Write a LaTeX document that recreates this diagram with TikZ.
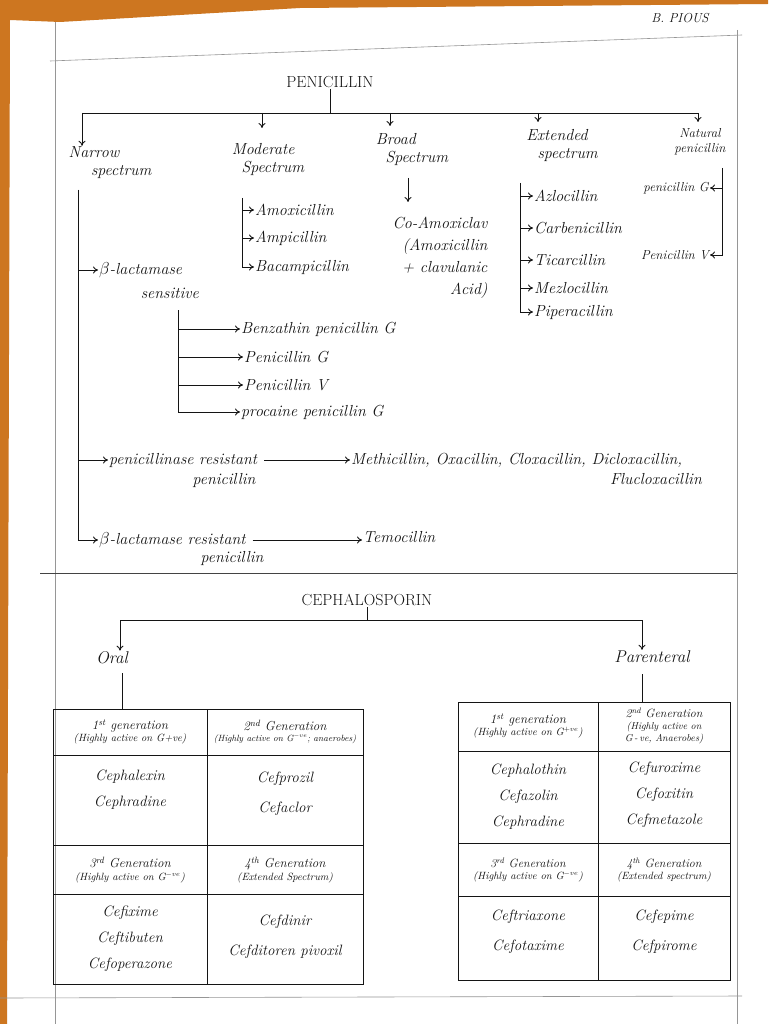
\documentclass[tikz,border=0pt]{standalone}
\usetikzlibrary{arrows.meta}
\definecolor{desk}{RGB}{205,118,32}
\definecolor{rule}{RGB}{150,150,150}
\definecolor{ink}{RGB}{20,20,20}
\begin{document}
\begin{tikzpicture}[x=1pt,y=-1pt,
  txt/.style={font=\fontsize{16}{18}\selectfont\itshape, inner sep=1pt, text=ink},
  mid/.style={font=\fontsize{13}{15}\selectfont\itshape, inner sep=1pt, text=ink},
  ttl/.style={font=\fontsize{16}{18}\selectfont, inner sep=1pt, text=ink},
  two/.style={txt, align=left},
  cell/.style={font=\fontsize{15}{26}\selectfont\itshape, align=center, inner sep=0pt, text=ink},
  head/.style={align=center, inner sep=0pt, text=ink, font=\fontsize{10.5}{12.5}\selectfont\itshape},
  ln/.style={line width=0.9pt, draw=ink},
  arr/.style={ln,-{To[length=5pt,width=7pt]}},
  pageline/.style={line width=0.6pt, draw=rule}]
\useasboundingbox (0,0) rectangle (768,1024);
\fill[white] (0,0) rectangle (768,1024);
\fill[desk] (0,0) -- (768,0) -- (768,4) -- (300,8) -- (60,22) -- (10,20) -- (7,1024) -- (0,1024) -- cycle;
% page rules
\draw[pageline] (50,61) -- (742,35);
\draw[pageline] (55,22) -- (55,1024);
\draw[pageline] (737,30) -- (737,1024);
\draw[pageline] (0,998) -- (742,996);
\draw[line width=0.8pt, draw=ink!80] (40,573) -- (737,573);
\node[ttl, font=\fontsize{13}{15}\selectfont\itshape] (author) at (680,18) {B. PIOUS};

% ---------------- PENICILLIN ----------------
\node[ttl] (pen) at (330,82) {PENICILLIN};
\coordinate (pbL) at (82,113);
\coordinate (pbR) at (698,113);
\draw[ln] (pen.south) -- (pen.south |- pbL);
\draw[ln] (pbL) -- (pbR);

\node[two] (narrow) at (110,163) {Narrow\\\hspace{1.4em}spectrum};
\node[two] (moder) at (268,160) {Moderate\\\hspace{0.6em}Spectrum};
\node[two] (broad) at (412,150) {Broad\\\hspace{0.6em}Spectrum};
\node[two] (exten) at (562,146) {Extended\\\hspace{0.7em}spectrum};
\node[mid, align=center] (natur) at (700,142) {Natural\\penicillin};

\draw[arr] (pbL) -- (pbL |- narrow.north);
\draw[arr] (pbL -| 262,0) -- (262,128);
\draw[arr] (pbL -| 390,0) -- (390,126);
\draw[arr] (pbL -| 538,0) -- (538,122);
\draw[arr] (pbR) -- (698,122);

% Narrow spectrum branch
\coordinate (nv) at (78,190);
\node[txt, anchor=west] (bls) at (98,270) {$\beta$-lactamase};
\node[txt, anchor=east] (bls2) at (200,293) {sensitive};
\node[txt, anchor=west] (pr) at (108,460) {penicillinase resistant};
\node[txt] (pr2) at (224,480) {penicillin};
\node[txt, anchor=west] (blr) at (98,540) {$\beta$-lactamase resistant};
\node[txt] (blr2) at (232,558) {penicillin};
\draw[ln] (nv) -- (nv |- pr.west);
\draw[arr] (nv |- bls.west) -- (bls.west);
\draw[arr] (nv |- pr.west) -- (pr.west);
\draw[arr] (nv) |- (blr.west);

\coordinate (sv) at (178,310);
\node[txt, anchor=west] (benz) at (240,329) {Benzathin penicillin G};
\node[txt, anchor=west] (pg) at (243,357) {Penicillin G};
\node[txt, anchor=west] (pv) at (243,385) {Penicillin V};
\node[txt, anchor=west] (proc) at (240,412) {procaine penicillin G};
\draw[arr] (sv |- benz.west) -- (benz.west);
\draw[arr] (sv |- pg.west) -- (pg.west);
\draw[arr] (sv |- pv.west) -- (pv.west);
\draw[arr] (sv) |- (proc.west);

\node[txt, anchor=west] (meth) at (350,460) {Methicillin, Oxacillin, Cloxacillin, Dicloxacillin,};
\node[txt, anchor=east] (fluc) at (703,479) {Flucloxacillin};
\draw[arr] (pr.east) ++(6,0) coordinate (pra) -- (meth.west);
\node[txt, anchor=west] (temo) at (362,537) {Temocillin};
\draw[arr] (blr.east) ++(6,0) coordinate (blra) -- (blra -| temo.west);

% Moderate spectrum
\coordinate (mv) at (242,198);
\node[txt, anchor=west] (amox) at (254,210) {Amoxicillin};
\node[txt, anchor=west] (ampi) at (254,238) {Ampicillin};
\node[txt, anchor=west] (baca) at (254,267) {Bacampicillin};
\draw[arr] (mv |- amox.west) -- (amox.west);
\draw[arr] (mv |- ampi.west) -- (ampi.west);
\draw[arr] (mv) |- (baca.west);

% Broad spectrum
\node[txt, align=right, font=\fontsize{16}{22}\selectfont\itshape] (coam) at (440,258) {Co-Amoxiclav\\(Amoxicillin\\+ clavulanic\\Acid)};
\coordinate (bA) at (408,178);
\draw[arr] (bA) -- (408,202);

% Extended spectrum
\coordinate (ev) at (520,183);
\node[txt, anchor=west] (azlo) at (533,196) {Azlocillin};
\node[txt, anchor=west] (carb) at (533,228) {Carbenicillin};
\node[txt, anchor=west] (tica) at (533,260) {Ticarcillin};
\node[txt, anchor=west] (mezl) at (533,288) {Mezlocillin};
\node[txt, anchor=west] (pipe) at (533,312) {Piperacillin};
\draw[arr] (ev |- azlo.west) -- (azlo.west);
\draw[arr] (ev |- carb.west) -- (carb.west);
\draw[arr] (ev |- tica.west) -- (tica.west);
\draw[arr] (ev |- mezl.west) -- (mezl.west);
\draw[arr] (ev) |- (pipe.west);

% Natural penicillin
\coordinate (tv) at (722,168);
\node[mid, anchor=east] (pgn) at (710,188) {penicillin G};
\node[mid, anchor=east] (pvn) at (710,255) {Penicillin V};
\draw[arr] (tv |- pgn.east) -- (pgn.east);
\draw[arr] (tv) |- (pvn.east);

% ---------------- CEPHALOSPORIN ----------------
\node[ttl] (ceph) at (367,600) {CEPHALOSPORIN};
\coordinate (cbL) at (120,620);
\coordinate (cbR) at (642,620);
\draw[ln] (ceph.south) -- (ceph.south |- cbL);
\draw[ln] (cbL) -- (cbR);
\node[txt, font=\fontsize{17}{19}\selectfont\itshape] (oral) at (112,658) {Oral};
\node[txt, font=\fontsize{17}{19}\selectfont\itshape] (parent) at (652,657) {Parenteral};
\draw[arr] (cbL) -- (cbL |- oral.north);
\draw[arr] (cbR) -- (cbR |- parent.north);

% Oral table
\coordinate (otop) at (122,709);
\draw[ln] (122,673) -- (otop);
\draw[ln] (53,709) rectangle (363,984);
\draw[ln] (207,709) -- (207,984);
\draw[ln] (53,755) -- (363,755);
\draw[ln] (53,845) -- (363,845);
\draw[ln] (53,894) -- (363,894);
\node[head] (o11) at (130,732) {{\fontsize{13}{15}\selectfont 1\textsuperscript{st} generation}\\(Highly active on G+ve)};
\node[head, font=\fontsize{9}{11}\selectfont\itshape] (o12) at (285,732) {{\fontsize{13}{15}\selectfont 2\textsuperscript{nd} Generation}\\(Highly active on G$^{-ve}$; anaerobes)};
\node[cell] (o21) at (130,790) {Cephalexin\\Cephradine};
\node[cell, font=\fontsize{15}{30}\selectfont\itshape] (o22) at (285,794) {Cefprozil\\Cefaclor};
\node[head] (o31) at (130,870) {{\fontsize{13}{15}\selectfont 3\textsuperscript{rd} Generation}\\(Highly active on G$^{-ve}$)};
\node[head] (o32) at (285,870) {{\fontsize{13}{15}\selectfont 4\textsuperscript{th} Generation}\\(Extended Spectrum)};
\node[cell] (o41) at (130,939) {Cefixime\\Ceftibuten\\Cefoperazone};
\node[cell, font=\fontsize{15}{30}\selectfont\itshape] (o42) at (285,937) {Cefdinir\\Cefditoren pivoxil};

% Parenteral table
\coordinate (ptop) at (642,702);
\draw[ln] (642,674) -- (ptop);
\draw[ln] (458,702) rectangle (730,980);
\draw[ln] (598,702) -- (598,980);
\draw[ln] (458,751) -- (730,751);
\draw[ln] (458,843) -- (730,843);
\draw[ln] (458,896) -- (730,896);
\node[head] (p11) at (528,726) {{\fontsize{13}{15}\selectfont 1\textsuperscript{st} generation}\\(Highly active on G$^{+ve}$)};
\node[head, font=\fontsize{10}{12}\selectfont\itshape] (p12) at (664,726) {{\fontsize{12}{14}\selectfont 2\textsuperscript{nd} Generation}\\(Highly active on\\G\,-\,ve, Anaerobes)};
\node[cell] (p21) at (528,797) {Cephalothin\\Cefazolin\\Cephradine};
\node[cell] (p22) at (664,795) {Cefuroxime\\Cefoxitin\\Cefmetazole};
\node[head] (p31) at (528,870) {{\fontsize{12}{14}\selectfont 3\textsuperscript{rd} Generation}\\(Highly active on G$^{-ve}$)};
\node[head] (p32) at (664,870) {{\fontsize{12}{14}\selectfont 4\textsuperscript{th} Generation}\\(Extended spectrum)};
\node[cell, font=\fontsize{15}{30}\selectfont\itshape] (p41) at (528,932) {Ceftriaxone\\Cefotaxime};
\node[cell, font=\fontsize{15}{30}\selectfont\itshape] (p42) at (664,932) {Cefepime\\Cefpirome};
\end{tikzpicture}
\end{document}
